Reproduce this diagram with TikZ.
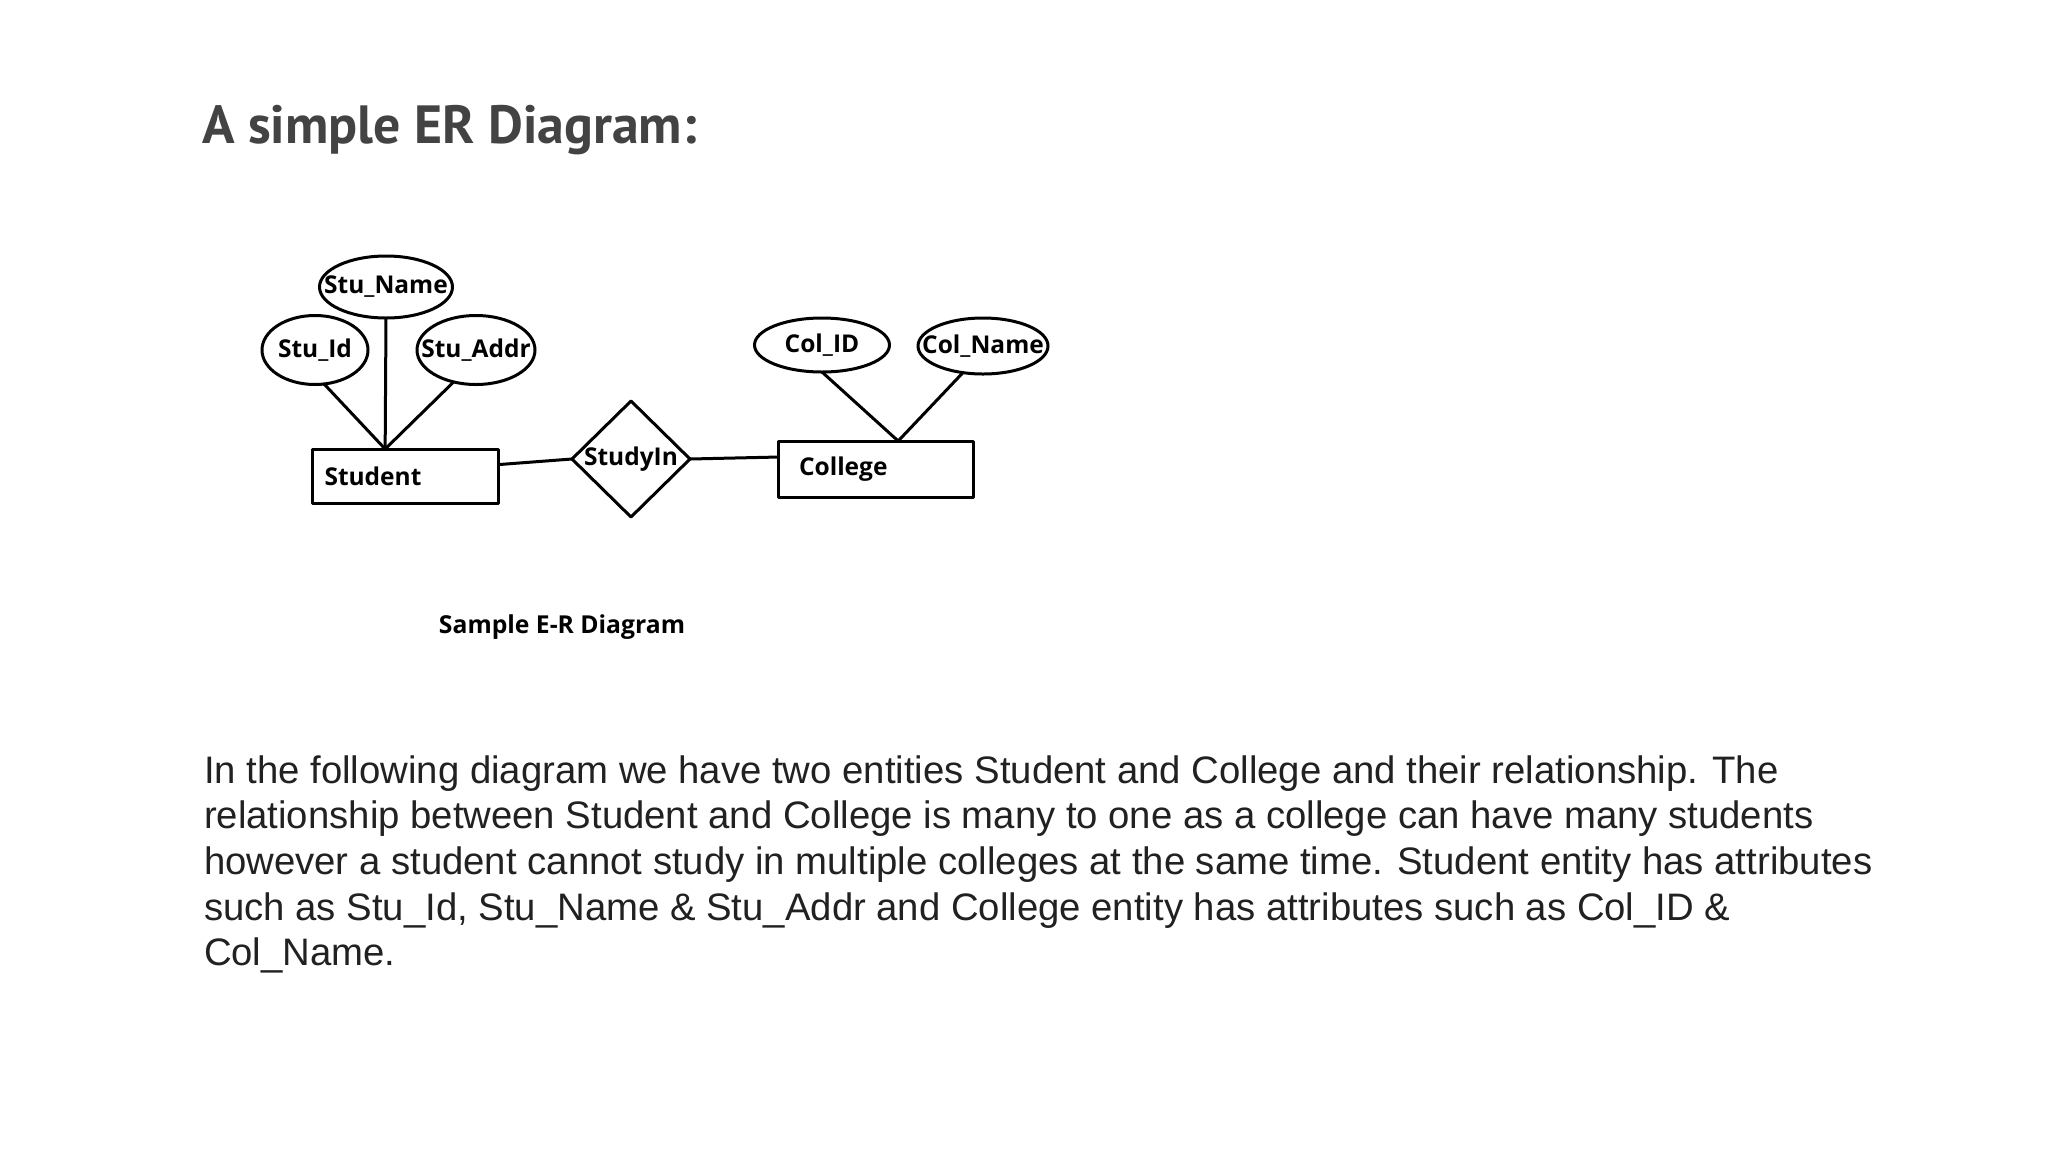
\documentclass[tikz,border=0pt]{standalone}
\usepackage{fontspec}
\setmainfont{Liberation Sans}
\newfontfamily\titlefont{PT Sans}
\newfontfamily\erfont{Open Sans}
\usetikzlibrary{shapes.geometric}
\definecolor{titlegray}{HTML}{434343}
\definecolor{bodygray}{HTML}{212121}
\newcommand{\erlbl}[1]{\makebox[0pt]{#1}}
\begin{document}
\begin{tikzpicture}[x=1pt, y=-1pt]
\tikzset{ inner sep=0pt, outer sep=0pt,
  erline/.style={line width=3pt, black, line cap=round, line join=round},
  erfnt/.style={font=\erfont\bfseries\fontsize{24.5}{25}\selectfont},
  attrib/.style={draw, erline, ellipse, erfnt},
  entity/.style={draw, erline, rectangle, align=left, erfnt},
  relation/.style={draw, erline, diamond, aspect=1, erfnt},
  bodyline/.style={anchor=base west, text=bodygray, font=\fontsize{38.3}{45}\selectfont},
}

\fill [white] (0,0) rectangle (2048,1152);
\useasboundingbox (0,0) rectangle (2048,1152);

%%% Title
\node [anchor=base west, text=titlegray, font=\titlefont\bfseries\fontsize{53.8}{54}\selectfont] (title) at (202,143) {A simple ER Diagram:};

%%% Entities

% Student
\node [entity, minimum width=186, minimum height=54, text width=162, inner xsep=12] (Student) at (405.5,476) {Student};
\node [attrib, minimum width=106, minimum height=69] (StuId)   at (315,350) {\erlbl{Stu\_Id}};
\node [attrib, minimum width=133, minimum height=62] (StuName) at (386,287) {\erlbl{Stu\_Name}};
\node [attrib, minimum width=118, minimum height=69] (StuAddr) at (476,350) {\erlbl{Stu\_Addr}};

% College
\node [entity, minimum width=195, minimum height=56, text width=153, inner xsep=21] (College) at (875.5,469) {College};
\node [attrib, minimum width=135, minimum height=54] (ColID)   at (822,345) {\erlbl{Col\_ID}};
\node [attrib, minimum width=130, minimum height=56] (ColName) at (983,346) {\erlbl{Col\_Name}};

% StudyIn
\node [relation, minimum width=118, minimum height=116] (StudyIn) at (631,459) {\erlbl{StudyIn}};

%%% Lines

% Student attributes
\draw [erline] (StuId.285)    -- (Student.127);
\draw [erline] (StuName.south) -- (Student.127);
\draw [erline] (StuAddr.235)  -- (Student.127);

% College attributes
\draw [erline] (ColID.south)  -- (College.51);
\draw [erline] (ColName.233)  -- (College.51);

% Student -> StudyIn -> College
\draw [erline] (Student.7)    -- (StudyIn.west);
\draw [erline] (StudyIn.east) -- (College.173);

\node [anchor=base, font=\erfont\bfseries\fontsize{24.7}{25}\selectfont] (caption) at (562,633) {Sample E-R Diagram};

%%% Text
\node [bodyline] (txt1) at (204,783)   {In the following diagram we have two entities Student and College and their relationship. The};
\node [bodyline] (txt2) at (204,828.7) {relationship between Student and College is many to one as a college can have many students};
\node [bodyline] (txt3) at (204,874.4) {however a student cannot study in multiple colleges at the same time. Student entity has attributes};
\node [bodyline] (txt4) at (204,920.1) {such as Stu\_Id, Stu\_Name \& Stu\_Addr and College entity has attributes such as Col\_ID \&};
\node [bodyline] (txt5) at (204,965.8) {Col\_Name.};

\end{tikzpicture}
\end{document}
